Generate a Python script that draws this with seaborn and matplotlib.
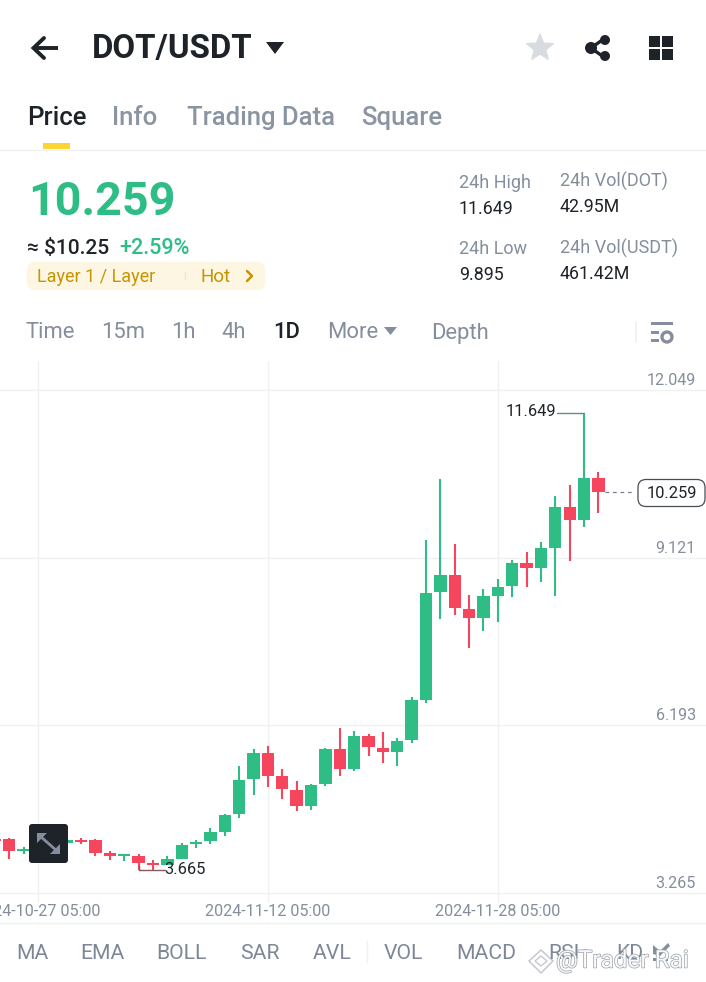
import matplotlib
matplotlib.use("Agg")
import matplotlib.pyplot as plt
import matplotlib.patheffects as pe
from matplotlib.patches import FancyBboxPatch, Polygon, Rectangle, Circle
from matplotlib.transforms import ScaledTranslation
import numpy as np
import pandas as pd
import seaborn as sns

days = list(range(-3, 40))
opens = [4.202, 4.202, 4.004, 4.030, 4.100, 4.144, 4.191, 4.191, 3.969, 3.917, 3.911, 3.783, 3.754, 3.865, 4.115,
         4.167, 4.330, 4.639, 5.250, 5.704, 5.308, 5.069, 4.784, 5.163, 5.779, 5.424, 6.006, 5.803, 5.727, 5.937,
         6.635, 8.521, 8.818, 8.224, 8.067, 8.457, 8.625, 9.027, 8.945, 9.295, 10.005, 9.784, 10.505]
highs = [4.220, 4.220, 4.074, 4.150, 4.170, 4.220, 4.231, 4.214, 4.004, 3.945, 3.940, 3.841, 3.917, 4.132, 4.196,
         4.394, 4.639, 5.483, 5.779, 5.838, 5.424, 5.215, 5.168, 5.803, 6.146, 6.094, 6.041, 6.076, 5.966, 6.681,
         9.429, 10.488, 9.353, 8.462, 8.567, 8.748, 9.074, 9.219, 9.388, 10.191, 10.383, 11.649, 10.616]
lows = [4.132, 3.853, 3.946, 4.000, 4.060, 4.132, 4.121, 3.905, 3.841, 3.830, 3.665, 3.670, 3.750, 3.860, 4.051,
        4.127, 4.266, 4.581, 4.976, 5.122, 4.912, 4.691, 4.709, 5.139, 5.308, 5.401, 5.663, 5.541, 5.477, 5.878,
        6.588, 8.043, 8.113, 7.549, 7.846, 8.003, 8.439, 8.608, 8.695, 8.457, 9.056, 9.661, 9.895]
closes = [4.167, 4.004, 4.033, 4.100, 4.130, 4.191, 4.161, 3.969, 3.911, 3.940, 3.789, 3.754, 3.853, 4.109, 4.161,
          4.324, 4.627, 5.232, 5.704, 5.314, 5.075, 4.778, 5.157, 5.779, 5.430, 6.006, 5.809, 5.727, 5.925, 6.629,
          8.509, 8.818, 8.236, 8.067, 8.445, 8.608, 9.021, 8.945, 9.283, 9.999, 9.784, 10.505, 10.259]
price_ticks = [3.265, 6.193, 9.121, 12.049]
price_labels = ["3.265", "6.193", "9.121", "12.049"]
date_ticks = [0, 16, 32]
date_labels = ["2024-10-27 05:00", "2024-11-12 05:00", "2024-11-28 05:00"]

GREEN = "#2ebd85"
RED = "#f6465d"
DARK = "#1e2329"
GRAY = "#848e9c"
GRID = "#eef0f2"

sns.set_theme(style="white")
plt.rcParams["font.family"] = ["Roboto", "DejaVu Sans"]

W, H = 706, 982
fig = plt.figure(figsize=(W / 100, H / 100), dpi=100, facecolor="white")
top_px, bot_px = 361, 923
ax = fig.add_axes([0, 1 - bot_px / H, 1, (bot_px - top_px) / H])

df = pd.DataFrame(dict(day=days, open=opens, high=highs, low=lows, close=closes))
df["up"] = df.close >= df.open
df["body_low"] = df[["open", "close"]].min(axis=1)
df["body"] = (df.open - df.close).abs()

wicks = df.melt(id_vars=["day", "up"], value_vars=["low", "high"], value_name="price")
for up, color in [(True, GREEN), (False, RED)]:
    part = df[df.up == up]
    sns.barplot(data=part, x="day", y="body", bottom=part.body_low.values, native_scale=True,
                color=color, saturation=1, width=0.86, errorbar=None, ax=ax, zorder=3, linewidth=0)
    sns.lineplot(data=wicks[wicks.up == up], x="day", y="price", units="day", estimator=None,
                 color=color, linewidth=1.5, ax=ax, zorder=2, legend=False, solid_capstyle="butt")

px_per_day = 14.37
ax.set_xlim(-38 / px_per_day, (W - 38) / px_per_day)
ax.set_ylim(3.265 - (bot_px - 893) * 0.01746, 3.265 + (893 - top_px) * 0.01746)
ax.set_xlabel("")
ax.set_ylabel("")
for s in ax.spines.values():
    s.set_visible(False)
ax.yaxis.tick_right()
ax.set_yticks(price_ticks, price_labels)
ax.set_xticks(date_ticks, date_labels)
ax.tick_params(axis="y", length=0, pad=-7.2, labelsize=11.6, labelcolor=GRAY)
ax.tick_params(axis="x", length=0, pad=-19, labelsize=11.6, labelcolor=GRAY)
shift = ScaledTranslation(0, 1.4 / 72, fig.dpi_scale_trans)
for lab in ax.get_yticklabels():
    lab.set_ha("right")
    lab.set_va("bottom")
    lab.set_transform(lab.get_transform() + shift)
ax.grid(True, axis="both", color=GRID, linewidth=1)
ax.set_axisbelow(True)

# overlay in pixel coordinates for the app chrome
ov = fig.add_axes([0, 0, 1, 1], zorder=10)
ov.set_xlim(0, W)
ov.set_ylim(H, 0)
ov.axis("off")
ov.patch.set_alpha(0)


def T(x, y, s, size, color=GRAY, ha="left", weight="normal", **kw):
    return ov.text(x - 1, y + 2, s, fontsize=size, color=color, ha=ha, va="center", fontweight=weight, **kw)


# cover below the chart grid so vertical grid stops above date labels
ov.add_patch(Rectangle((0, 903), W, 19, fc="white", ec="none", zorder=0.5))
for tick in ax.get_xticklabels():
    tick.set_visible(False)
for d, s in zip(date_ticks, date_labels):
    T(39 + d * px_per_day, 909.5, s, 11.6, ha="center")

# header
ov.plot([33, 58], [48, 48], color=DARK, lw=2.8, solid_capstyle="butt")
ov.plot([44, 33.5, 44], [38, 48, 58], color=DARK, lw=2.8, solid_joinstyle="miter")
T(93, 47, "DOT/USDT", 23.8, DARK, weight="bold")
ov.add_patch(Polygon([[266, 42], [284, 42], [275, 54]], fc=DARK, ec="none"))
sx, sy = 540, 48
star = [(sx + (14 if i % 2 == 0 else 6) * np.sin(i * np.pi / 5),
         sy - (14 if i % 2 == 0 else 6) * np.cos(i * np.pi / 5)) for i in range(10)]
ov.add_patch(Polygon(star, fc="#d8dce1", ec="#d8dce1", lw=1, joinstyle="round"))
ov.plot([605, 591, 605], [38, 48, 58], color=DARK, lw=2.4)
for cx, cy, r in [(605, 40, 5), (591, 48, 6), (605, 56, 5)]:
    ov.add_patch(Circle((cx, cy), r, fc=DARK, ec="none"))
for x0, y0 in [(649, 36), (662, 36), (649, 49), (662, 49)]:
    ov.add_patch(Rectangle((x0, y0), 11, 11, fc=DARK, ec="none"))

# tabs
T(28, 116, "Price", 18.5, DARK, weight="medium")
for x, s in [(113, "Info"), (188, "Trading Data"), (362, "Square")]:
    T(x, 116, s, 18.5, "#8a94a3", weight="medium")
ov.add_patch(Rectangle((43, 143), 27, 6, fc="#fcd535", ec="none"))
ov.plot([0, W], [150, 150], color=GRID, lw=1)

# price block
T(29, 200, "10.259", 33.6, GREEN, weight="bold")
T(28, 246, "≈ $10.25", 15, DARK, weight="medium")
T(120, 246, "+2.59%", 15.5, GREEN, weight="medium")
ov.add_patch(FancyBboxPatch((31, 266), 230, 20, boxstyle="round,pad=0,rounding_size=4", mutation_aspect=1,
                            fc="#fdf6e3", ec="#fdf6e3", lw=6, joinstyle="round"))
T(38, 275, "Layer 1 / Layer", 13, "#c99400")
ov.plot([185, 185], [272, 279], color="#f3e6c0", lw=1)
T(202, 275, "Hot", 13.6, "#c99400")
ov.plot([247, 252, 247], [271, 276, 281], color="#c99400", lw=1.8)

# 24h stats
for x, y, s in [(460, 181, "24h High"), (561, 179, "24h Vol(DOT)"), (460, 247, "24h Low"), (561, 246, "24h Vol(USDT)")]:
    T(x, y, s, 13, GRAY)
for x, y, s in [(460, 207, "11.649"), (561, 205, "42.95M"), (460, 273, "9.895"), (561, 272, "461.42M")]:
    T(x, y, s, 12.8, DARK)

# interval row
for x, s, c in [(27, "Time", GRAY), (102, "15m", GRAY), (172, "1h", GRAY), (222, "4h", GRAY), (274, "1D", DARK),
                (328, "More", GRAY), (432, "Depth", GRAY)]:
    T(x, 331, s, 15.8, c, weight="medium" if s == "1D" else "normal")
ov.add_patch(Polygon([[384, 327], [397, 327], [390.5, 335]], fc=GRAY, ec="none"))
ov.plot([636, 636], [322, 342], color=GRID, lw=1.2)
ov.add_patch(Rectangle((651, 322), 22, 3, fc=GRAY, ec="none"))
for y0 in (331, 339):
    ov.add_patch(Rectangle((651, y0), 8, 3, fc=GRAY, ec="none"))
ov.add_patch(Circle((667, 337), 5, fc="white", ec=GRAY, lw=2.4))

# chart annotations
ov.plot([557, 584], [413, 413], color="#5f8f80", lw=1)
T(557, 410, "11.649", 11.9, DARK, ha="right")
ov.plot([138.5, 138.5, 165], [866, 870, 870], color="#8a5560", lw=1)
T(165, 867, "3.665", 11.9, DARK)
ov.plot([605, 632], [492, 492], color="#76808f", lw=0.9, ls=(0, (3, 3)))
ov.add_patch(FancyBboxPatch((638, 479.5), 67, 27, boxstyle="round,pad=0,rounding_size=8", fc="white",
                            ec="#474d57", lw=0.9))
T(672.5, 491, "10.259", 11.9, DARK, ha="center")

# expand button
ov.add_patch(FancyBboxPatch((29, 824), 39, 39, boxstyle="round,pad=0,rounding_size=3", fc=DARK, ec="none"))
ov.add_patch(Polygon([[37, 833], [47, 833], [37, 843]], fc=GRAY, ec="none"))
ov.add_patch(Polygon([[60, 854], [50, 854], [60, 844]], fc=GRAY, ec="none"))
ov.plot([40, 57], [836, 851], color=GRAY, lw=2)

# indicator row
ov.plot([0, W], [923, 923], color=GRID, lw=1)
for x, s in [(17, "MA"), (81, "EMA"), (157, "BOLL"), (241, "SAR"), (314, "AVL"), (385, "VOL"), (457, "MACD"),
             (549, "RSI"), (617, "KD")]:
    T(x, 951.5, s, 15.2, "#7d8795")
ov.plot([367, 367], [941, 962], color=GRID, lw=1)
ov.add_patch(Polygon([[653, 954], [653, 945], [660, 951], [668, 943], [670, 946], [660, 956]], fc=GRAY, ec="none"))
ov.add_patch(Rectangle((653, 958), 15, 3, fc=GRAY, ec="none"))

# watermark
halo = [pe.withStroke(linewidth=1.1, foreground="#9aa0a8")]
T(557, 959, "@Trader Rai", 17.5, "white", path_effects=halo, alpha=0.9)
ov.add_patch(Polygon([[541, 950], [553, 961], [541, 973], [529, 961]], fc="none", ec="#c4c8ce", lw=1.1))
ov.add_patch(Polygon([[541, 956], [547, 961], [541, 966], [535, 961]], fc="white", ec="#c4c8ce", lw=1))

fig.savefig("out.png", dpi=100, facecolor="white")
